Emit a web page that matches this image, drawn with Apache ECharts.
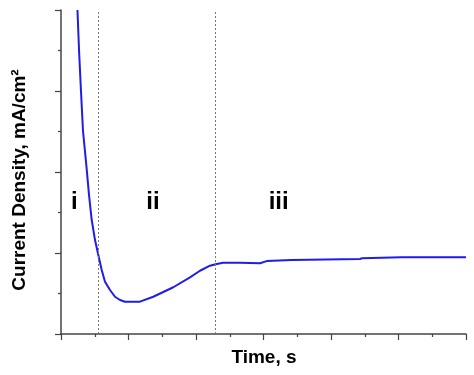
<!DOCTYPE html>
<html><head><meta charset="utf-8">
<script src="https://cdn.jsdelivr.net/npm/echarts@6/dist/echarts.min.js"></script>
<style>html,body{margin:0;padding:0;background:#fff}#c{width:474px;height:375px}</style>
</head><body><div id="c"></div>
<script>
// Time (s) and current density (mA/cm²) (axes carry no numbers)
const timeValues = [24.4, 26.7, 29.6, 32.6, 37.8, 41.5, 45.5, 50.4, 55.3, 60.3, 65.2, 72.6, 80.0, 87.4, 94.8, 117, 136.7, 166.4, 191.1, 205.9, 220.7, 230.7, 240.4, 265.2, 294.8, 297, 304.7, 341.8, 443, 446, 504.7, 540, 600];
const currentValues = [40.0, 35.06, 30.0, 25.06, 20.6, 17.16, 14.07, 11.6, 9.75, 7.9, 6.46, 5.43, 4.6, 4.2, 3.99, 3.99, 4.6, 5.77, 7.0, 7.81, 8.43, 8.64, 8.8, 8.8, 8.73, 8.8, 9.0, 9.14, 9.26, 9.35, 9.47, 9.47, 9.47];
// Region boundaries (s)
const boundaryTimes = [55.3, 229];
// Region labels and their positions in data units
const regionNames = ['i', 'ii', 'iii'];
const regionX = [19.7, 136.2, 322.5];
const regionY = [16.2, 16.2, 16.2];

const FONT = "'Liberation Sans', Arial, sans-serif";
const chart = echarts.init(document.getElementById('c'), null, {renderer: 'canvas'});
const axisColor = '#444';
chart.setOption({
  animation: false,
  backgroundColor: '#fff',
  grid: {left: 61, right: 8, top: 10, bottom: 41, containLabel: false},
  xAxis: {
    type: 'value', min: 0, max: 600, interval: 100,
    axisLine: {show: true, lineStyle: {color: axisColor, width: 1.5}},
    axisTick: {show: true, length: 6, lineStyle: {color: axisColor, width: 1.2}},
    minorTick: {show: true, splitNumber: 2, length: 3, lineStyle: {color: axisColor, width: 1.2}},
    axisLabel: {show: false},
    splitLine: {show: false}
  },
  yAxis: {
    type: 'value', min: 0, max: 40, interval: 10,
    axisLine: {show: true, lineStyle: {color: axisColor, width: 1.5}},
    axisTick: {show: true, length: 6, lineStyle: {color: axisColor, width: 1.2}},
    minorTick: {show: true, splitNumber: 2, length: 3, lineStyle: {color: axisColor, width: 1.2}},
    axisLabel: {show: false},
    splitLine: {show: false}
  },
  graphic: [
    {type: 'text', x: 264, y: 358, style: {text: 'Time, s', font: "bold 19px " + FONT, fill: '#000', textAlign: 'center', textVerticalAlign: 'middle'}},
    {type: 'text', x: 20, y: 180, rotation: Math.PI / 2, style: {text: 'Current Density, mA/cm²', font: "bold 19px " + FONT, fill: '#000', textAlign: 'center', textVerticalAlign: 'middle'}}
  ],
  series: [
    {
      type: 'line',
      data: timeValues.map((t, i) => [t, currentValues[i]]),
      showSymbol: false,
      smooth: false,
      clip: true,
      lineStyle: {color: '#1e1ee8', width: 2, join: 'round'},
      markLine: {
        silent: true, symbol: 'none', label: {show: false},
        lineStyle: {color: '#777', type: [2, 2], width: 1},
        data: boundaryTimes.map(t => ({xAxis: t}))
      },
      z: 3
    },
    {
      type: 'scatter',
      symbolSize: 1,
      itemStyle: {opacity: 0},
      data: regionNames.map((n, i) => ({name: n, value: [regionX[i], regionY[i]]})),
      label: {show: true, position: 'inside', formatter: p => p.name, color: '#000', opacity: 1, fontSize: 24, fontWeight: 'bold', fontFamily: FONT},
      silent: true
    }
  ]
});
</script></body></html>
